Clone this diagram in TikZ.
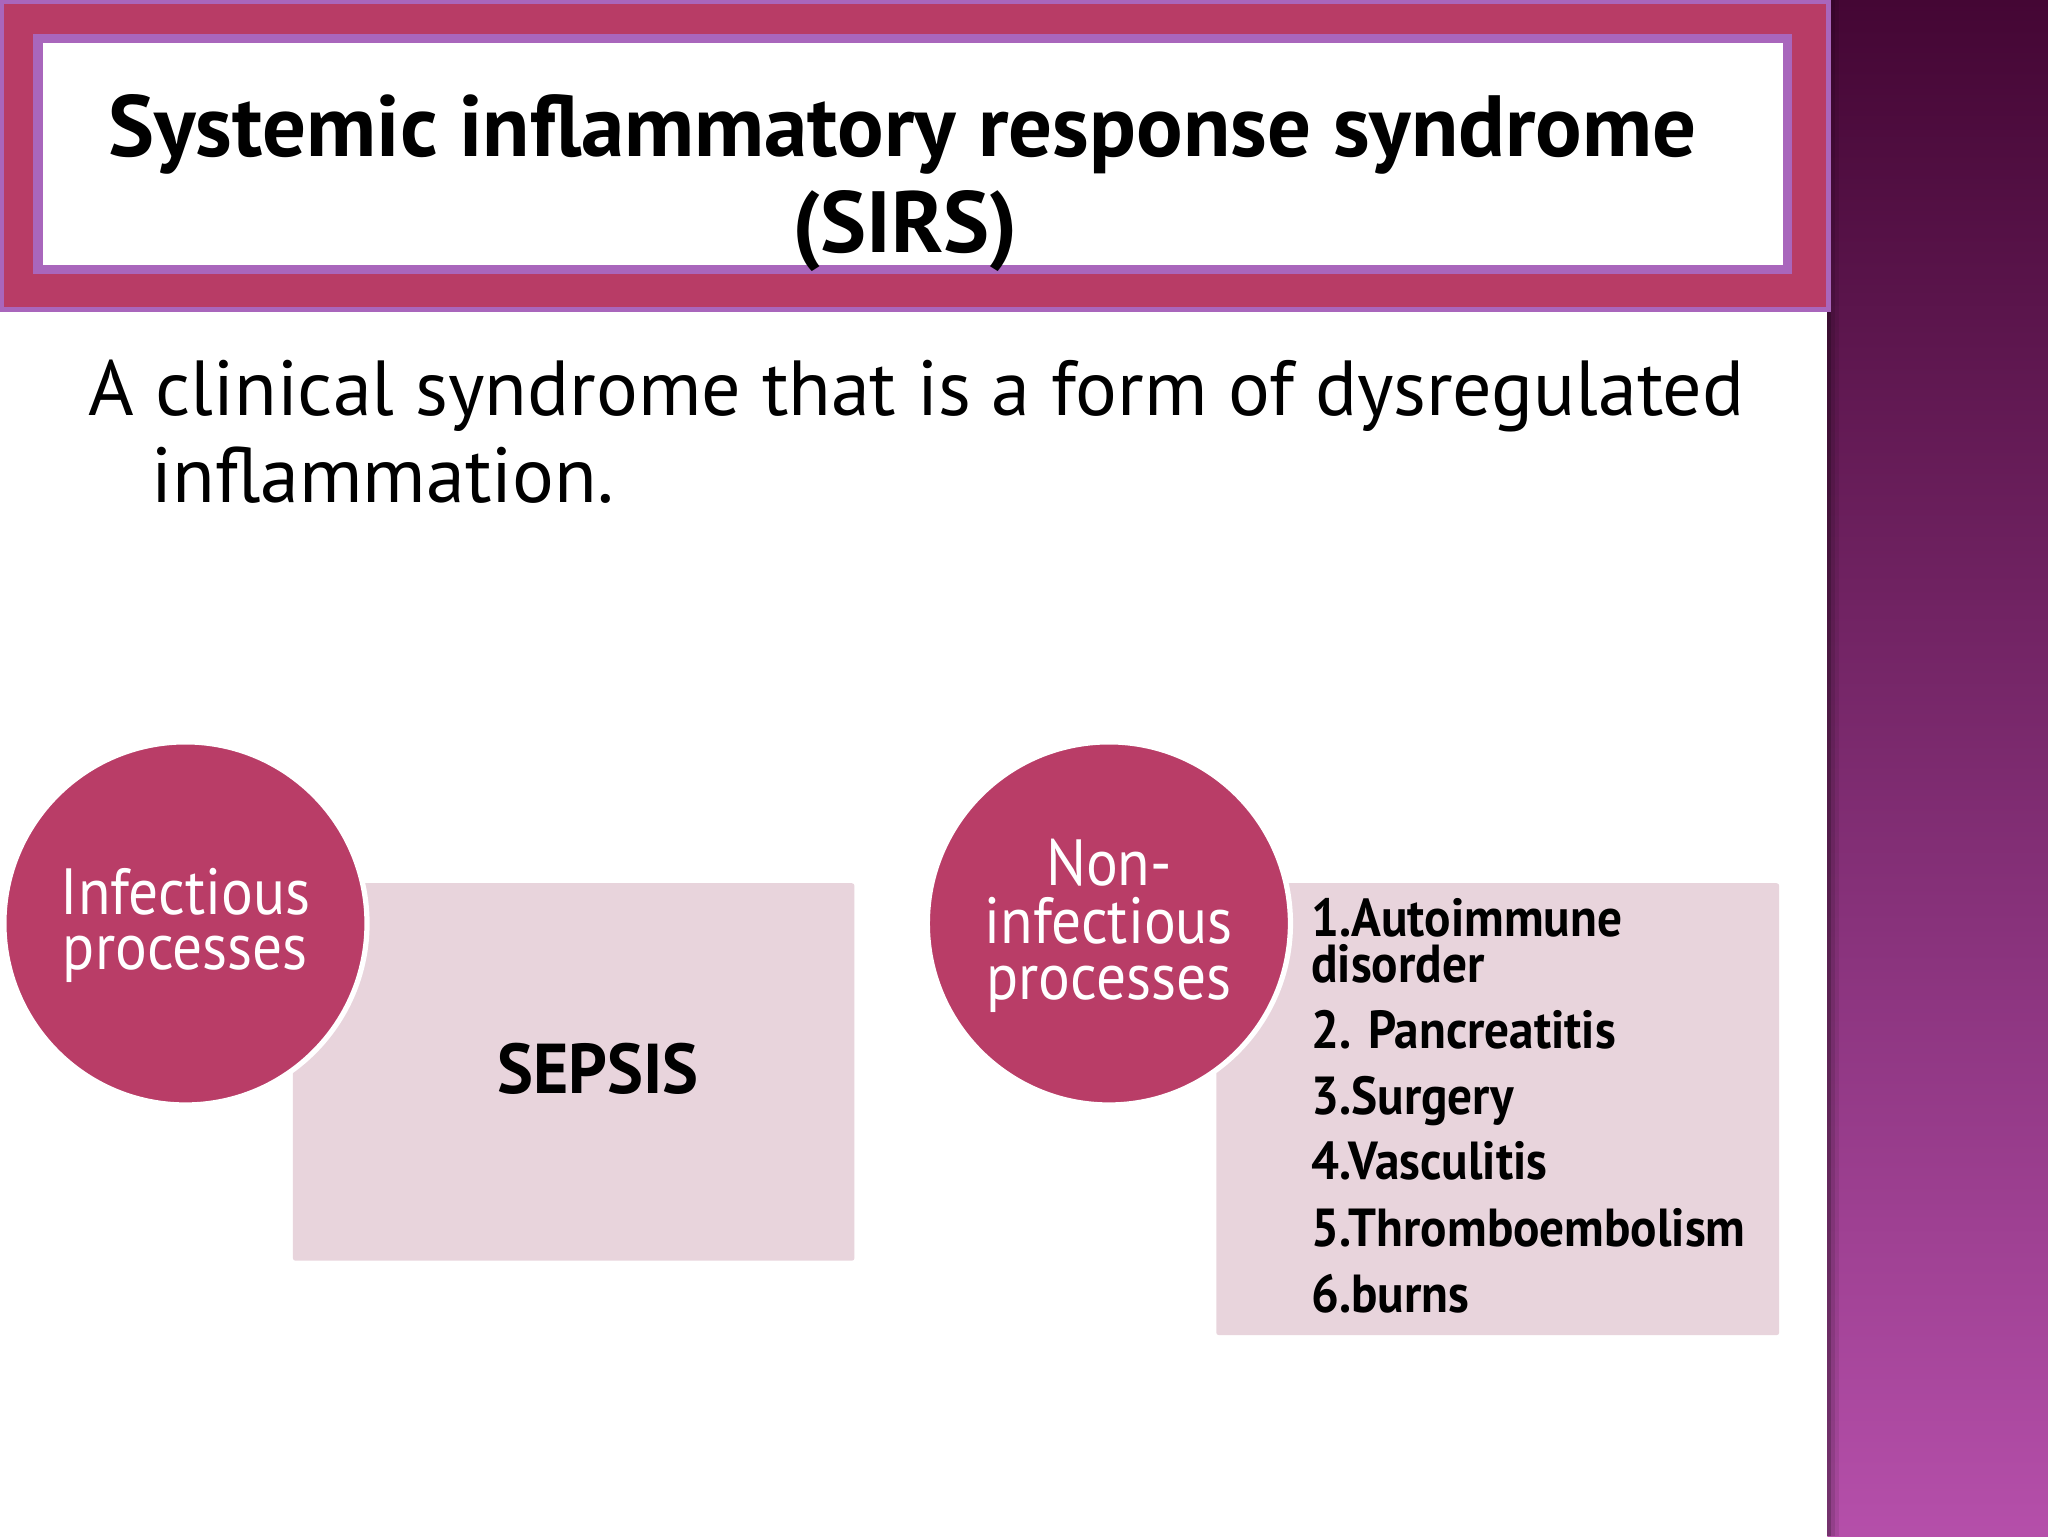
\documentclass[tikz,border=0pt]{standalone}
\usepackage{fontspec}
\setmainfont{PT Sans}
\newfontfamily\circfont[FakeStretch=0.91]{PT Sans}
\newfontfamily\listfont[FakeStretch=0.92]{PT Sans}
\newfontfamily\sepsisfont[FakeStretch=0.96]{PT Sans}
\definecolor{frameRed}{HTML}{B83C66}
\definecolor{framePurple}{HTML}{A966BC}
\definecolor{pinkBox}{HTML}{E8D4DC}
\definecolor{circRed}{HTML}{B93D67}
\definecolor{panelTop}{HTML}{440634}
\definecolor{panelMid}{HTML}{7E2C74}
\definecolor{panelBot}{HTML}{B54FAA}
\tikzset{
  txt/.style={inner sep=0pt, outer sep=0pt, anchor=base},
  titletext/.style={txt, font=\fontsize{66.5}{70}\selectfont\bfseries},
  bodytext/.style={txt, anchor=base west, font=\fontsize{59.8}{70}\selectfont},
  circtext/.style={txt, text=white, font=\circfont\fontsize{50}{56}\selectfont},
  listtext/.style={txt, anchor=base west, font=\listfont\fontsize{41}{46}\selectfont\bfseries},
  pinkbox/.style={fill=pinkBox, rounded corners=2pt, anchor=north west, inner sep=0pt},
  circ/.style={circle, fill=circRed, draw=white, line width=4pt, minimum size=278pt, inner sep=0pt},
}
\begin{document}
\begin{tikzpicture}[x=1pt,y=-1pt]
\useasboundingbox (0,0) rectangle (1568,1176);
\fill[white] (0,0) rectangle (1568,1176);
% right decorative panel
\shade[top color=panelTop, middle color=panelMid, bottom color=panelBot] (1399,0) rectangle (1568,1176);
\fill[black, opacity=0.35] (1399,0) rectangle (1402,1176);
\fill[black, opacity=0.18] (1402,0) rectangle (1405,1176);
\fill[black, opacity=0.08] (1405,0) rectangle (1408,1176);
% title frame
\fill[framePurple] (0,0) rectangle (1402,239);
\fill[frameRed] (3,3) rectangle (1398,235);
\fill[framePurple] (25,26) rectangle (1372,210);
\fill[white] (33,33) rectangle (1365,203);
\node[titletext] (t1) at (691,120) {Systemic inflammatory response syndrome};
\node[titletext] (t2) at (693,193) {(SIRS)};
% subtitle
\node[bodytext] (s1) at (68,318) {A clinical syndrome that is a form of dysregulated};
\node[bodytext] (s2) at (116,385) {inflammation.};
% left group
\node[pinkbox, minimum width=430pt, minimum height=289pt] (sepsisbox) at (224,676) {};
\node[txt, font=\sepsisfont\fontsize{54}{60}\selectfont\bfseries] (sepsis) at (458,837) {SEPSIS};
\node[circ] (inf) at (142,707) {};
\node[circtext] (inf1) at (142,700) {Infectious};
\node[circtext] (inf2) at (142,742) {processes};
% right group
\node[pinkbox, minimum width=431pt, minimum height=346pt] (listbox) at (931,676) {};
\node[circ] (noninf) at (849,707) {};
\node[circtext] (n1) at (849,678) {Non-};
\node[circtext] (n2) at (849,722) {infectious};
\node[circtext] (n3) at (849,765) {processes};
\node[listtext] (l1) at (1004,717) {1.Autoimmune};
\node[listtext] (l1b) at (1004,752) {disorder};
\node[listtext] (l2) at (1004,803) {2. Pancreatitis};
\node[listtext] (l3) at (1004,853) {3.Surgery};
\node[listtext] (l4) at (1004,903) {4.Vasculitis};
\node[listtext] (l5) at (1004,954) {5.Thromboembolism};
\node[listtext] (l6) at (1004,1005) {6.burns};
\end{tikzpicture}
\end{document}
